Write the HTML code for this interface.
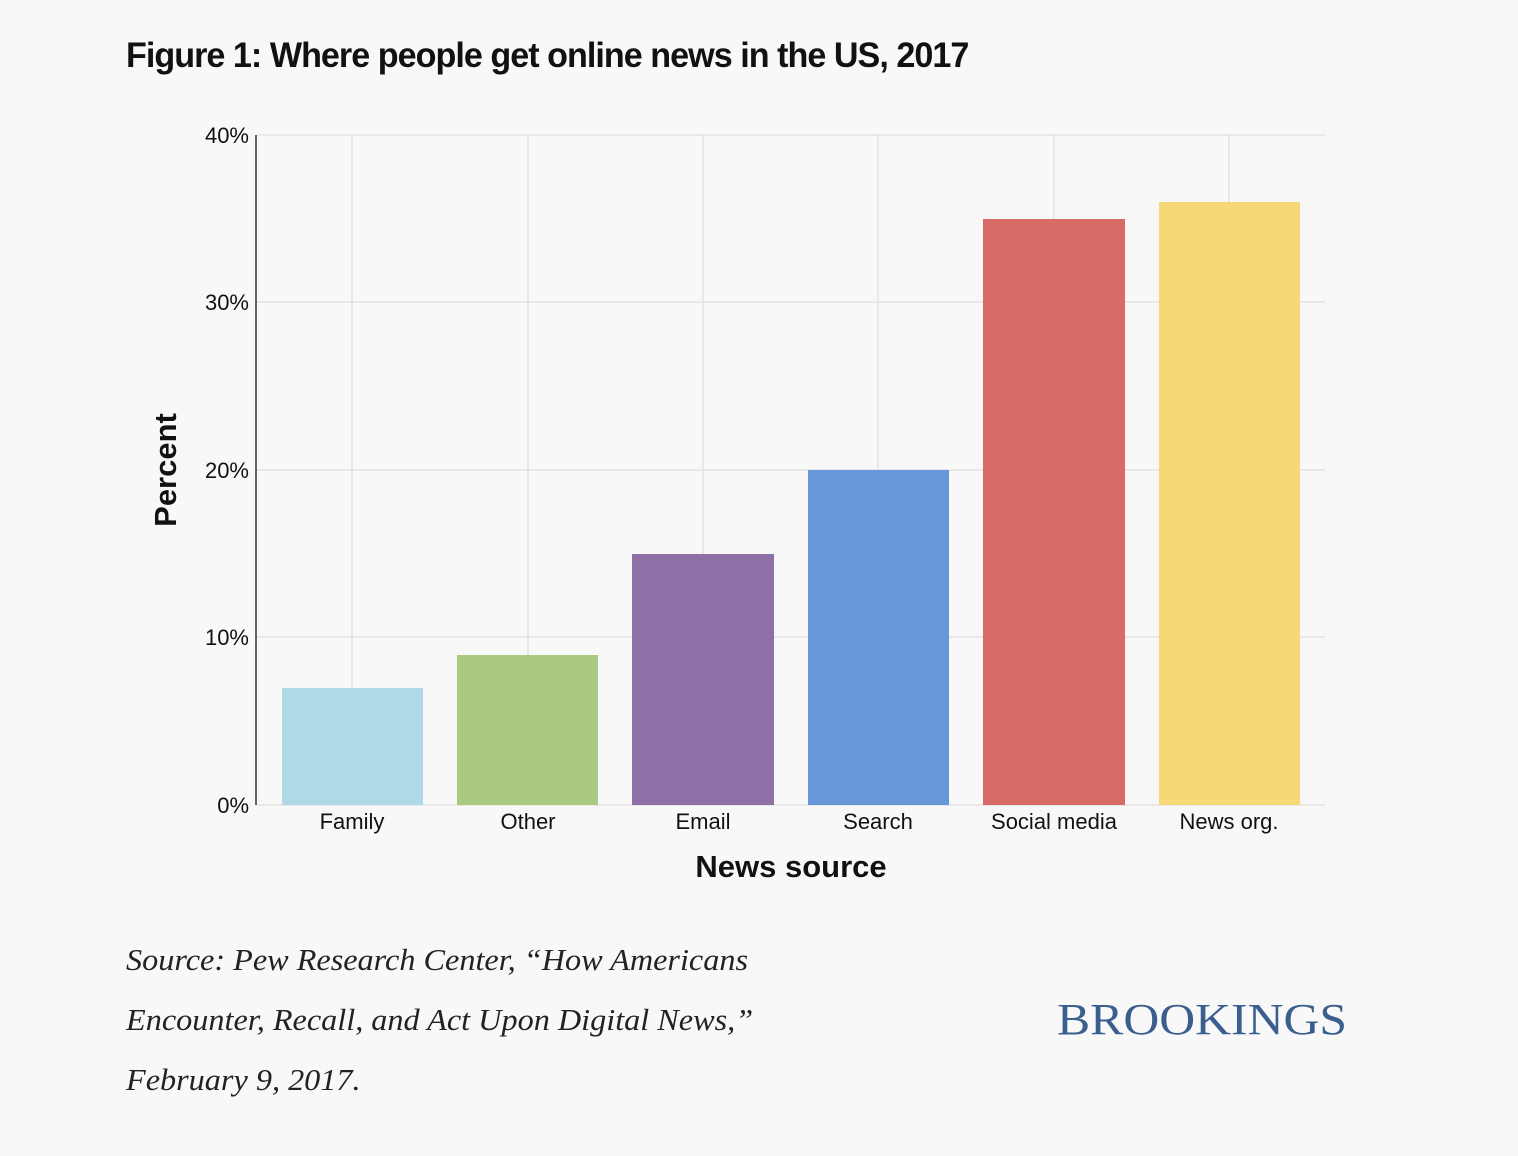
<!DOCTYPE html>
<html><head><style>
body{margin:0;background:#f8f8f8;width:1518px;height:1156px;overflow:hidden;position:relative;font-family:"Liberation Sans",sans-serif;}
.t{position:absolute;left:126px;top:36px;font-size:35px;font-weight:bold;letter-spacing:-1px;transform:scaleX(0.975);transform-origin:left;color:#111;white-space:nowrap;}
.src{position:absolute;left:126px;font-family:"Liberation Serif",serif;font-style:italic;font-size:31px;color:#222;transform:scaleX(1.04);transform-origin:left;white-space:nowrap;}
.br{position:absolute;left:1057px;top:994px;font-family:"Liberation Serif",serif;font-size:44px;color:#3a5f8f;transform:scaleX(1.13);transform-origin:left;white-space:nowrap;}
</style></head><body>
<div class="t">Figure 1: Where people get online news in the US, 2017</div>
<svg width="1518" height="1156" style="position:absolute;left:0;top:0">
<g stroke="#e2e2e2" stroke-width="1.5">
<line x1="256" y1="135" x2="1325" y2="135"/><line x1="256" y1="302" x2="1325" y2="302"/><line x1="256" y1="470" x2="1325" y2="470"/><line x1="256" y1="637" x2="1325" y2="637"/><line x1="256" y1="805" x2="1325" y2="805"/>
<line x1="352" y1="135" x2="352" y2="805"/><line x1="528" y1="135" x2="528" y2="805"/><line x1="703" y1="135" x2="703" y2="805"/><line x1="878" y1="135" x2="878" y2="805"/><line x1="1054" y1="135" x2="1054" y2="805"/><line x1="1229" y1="135" x2="1229" y2="805"/>
</g>
<rect x="282" y="688" width="141" height="117" fill="#afd9e6"/>
<rect x="457" y="655" width="141" height="150" fill="#abc981"/>
<rect x="632" y="554" width="142" height="251" fill="#8e70a7"/>
<rect x="808" y="470" width="141" height="335" fill="#6797d9"/>
<rect x="983" y="219" width="142" height="586" fill="#d86b66"/>
<rect x="1159" y="202" width="141" height="603" fill="#f6d877"/>
<line x1="256" y1="135" x2="256" y2="805" stroke="#333" stroke-width="1.5"/>
<g font-size="22" fill="#111" text-anchor="end">
<text x="249" y="143">40%</text><text x="249" y="310">30%</text><text x="249" y="478">20%</text><text x="249" y="645">10%</text><text x="249" y="813">0%</text>
</g>
<g font-size="22" fill="#111" text-anchor="middle">
<text x="352" y="829">Family</text><text x="528" y="829">Other</text><text x="703" y="829">Email</text><text x="878" y="829">Search</text><text x="1054" y="829">Social media</text><text x="1229" y="829">News org.</text>
</g>
<text x="791" y="877" font-size="31" font-weight="bold" text-anchor="middle" fill="#111">News source</text>
<text transform="translate(176,470) rotate(-90)" font-size="31" font-weight="bold" text-anchor="middle" fill="#111">Percent</text>
</svg>
<div class="src" style="top:942px">Source: Pew Research Center, “How Americans</div>
<div class="src" style="top:1002px">Encounter, Recall, and Act Upon Digital News,”</div>
<div class="src" style="top:1062px">February 9, 2017.</div>
<div class="br">BROOKINGS</div>
</body></html>
